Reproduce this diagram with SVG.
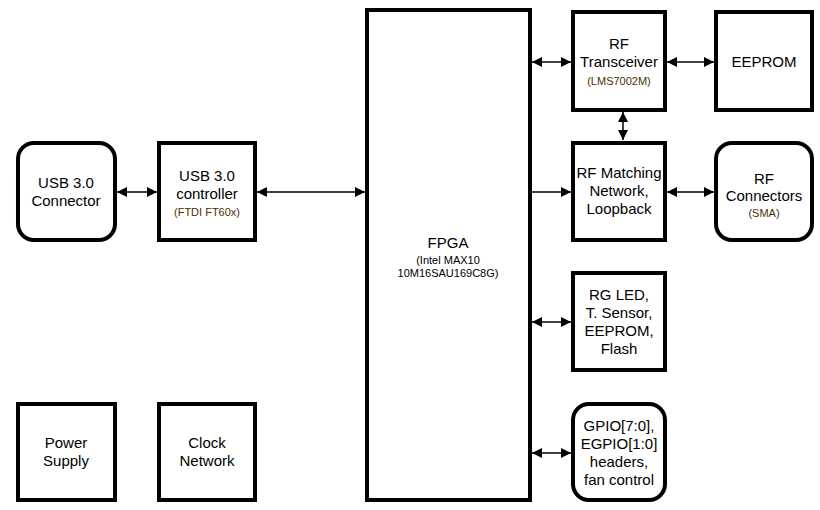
<svg xmlns="http://www.w3.org/2000/svg" width="820" height="510" viewBox="0 0 820 510">
<style>
.b{fill:#fff;stroke:#000;stroke-width:4}
.t{font-family:"Liberation Sans",Arial,sans-serif;font-size:15px;fill:#000;text-anchor:middle}
.s{font-family:"Liberation Sans",Arial,sans-serif;font-size:11px;fill:#4a3000;text-anchor:middle}
.f{font-family:"Liberation Sans",Arial,sans-serif;font-size:11px;fill:#000;text-anchor:middle}
.c{stroke:#000;stroke-width:1.5;fill:none}
</style>
<defs>
<marker id="a" viewBox="0 0 10 10" refX="10" refY="5" markerWidth="10" markerHeight="10" markerUnits="userSpaceOnUse" orient="auto-start-reverse"><path d="M0,0L10,5L0,10z" fill="#000"/></marker>
</defs>
<rect width="820" height="510" fill="#fff"/>
<g id="connectors">
<line class="c" x1="532" y1="62" x2="571" y2="62" marker-start="url(#a)" marker-end="url(#a)"/>
<line class="c" x1="667" y1="62" x2="714" y2="62" marker-start="url(#a)" marker-end="url(#a)"/>
<line class="c" x1="623" y1="112" x2="623" y2="140" marker-start="url(#a)" marker-end="url(#a)"/>
<line class="c" x1="532" y1="192" x2="571" y2="192" marker-end="url(#a)"/>
<line class="c" x1="667" y1="192" x2="714" y2="192" marker-start="url(#a)" marker-end="url(#a)"/>
<line class="c" x1="532" y1="322" x2="571" y2="322" marker-start="url(#a)" marker-end="url(#a)"/>
<line class="c" x1="532" y1="453" x2="571" y2="453" marker-start="url(#a)" marker-end="url(#a)"/>
<line class="c" x1="117" y1="192" x2="157" y2="192" marker-start="url(#a)" marker-end="url(#a)"/>
<line class="c" x1="257" y1="192" x2="365" y2="192" marker-start="url(#a)" marker-end="url(#a)"/>
</g>
<g id="fpga"><rect class="b" x="367" y="10" width="163" height="490"/>
<text class="t" x="448" y="248">FPGA</text><text class="f" x="448" y="264">(Intel MAX10</text><text class="f" x="448" y="277">10M16SAU169C8G)</text></g>
<g id="rftx"><rect class="b" x="573" y="12" width="92" height="98"/>
<text class="t" x="619" y="49">RF</text><text class="t" x="619" y="67">Transceiver</text><text class="s" x="619" y="85">(LMS7002M)</text></g>
<g id="eeprom"><rect class="b" x="716" y="12" width="96" height="98"/><text class="t" x="764" y="67">EEPROM</text></g>
<g id="rfmatch"><rect class="b" x="573" y="143" width="92" height="97"/>
<text class="t" x="619" y="178">RF Matching</text><text class="t" x="619" y="196">Network,</text><text class="t" x="619" y="214">Loopback</text></g>
<g id="rfconn"><rect class="b" x="716" y="143" width="96" height="97" rx="16"/>
<text class="t" x="764" y="184">RF</text><text class="t" x="764" y="201">Connectors</text><text class="s" x="764" y="217">(SMA)</text></g>
<g id="rgled"><rect class="b" x="573" y="273" width="92" height="97"/>
<text class="t" x="619" y="300">RG LED,</text><text class="t" x="619" y="318">T. Sensor,</text><text class="t" x="619" y="336">EEPROM,</text><text class="t" x="619" y="354">Flash</text></g>
<g id="gpio"><rect class="b" x="573" y="404" width="92" height="96" rx="16"/>
<text class="t" x="619" y="431">GPIO[7:0],</text><text class="t" x="619" y="449">EGPIO[1:0]</text><text class="t" x="619" y="467">headers,</text><text class="t" x="619" y="485">fan control</text></g>
<g id="usbconn"><rect class="b" x="18" y="143" width="97" height="97" rx="16"/>
<text class="t" x="66" y="188">USB 3.0</text><text class="t" x="66" y="206">Connector</text></g>
<g id="usbctrl"><rect class="b" x="159" y="143" width="96" height="97"/>
<text class="t" x="207" y="181">USB 3.0</text><text class="t" x="207" y="199">controller</text><text class="s" x="207" y="216">(FTDI FT60x)</text></g>
<g id="power"><rect class="b" x="18" y="404" width="97" height="96"/>
<text class="t" x="66" y="448">Power</text><text class="t" x="66" y="466">Supply</text></g>
<g id="clock"><rect class="b" x="159" y="404" width="96" height="96"/>
<text class="t" x="207" y="448">Clock</text><text class="t" x="207" y="466">Network</text></g>
</svg>
